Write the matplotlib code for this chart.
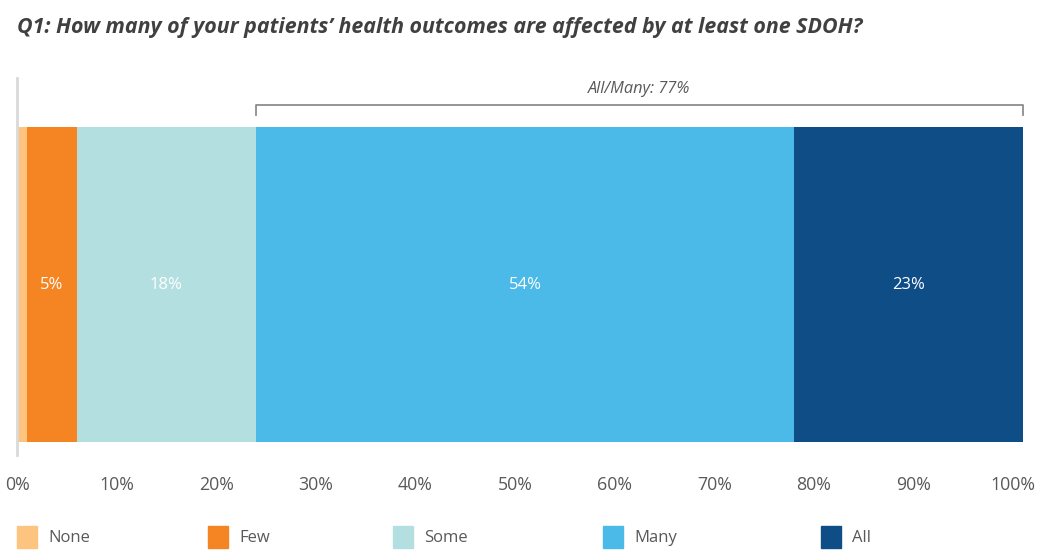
import matplotlib.pyplot as plt
from matplotlib.patches import Rectangle
import numpy as np

# data
categories = ['None', 'Few', 'Some', 'Many', 'All']
values = [1, 5, 18, 54, 23]
labels = ['', '5%', '18%', '54%', '23%']
colors = ['#FDC47F', '#F58523', '#B3DFE0', '#4BBAE9', '#0F4D87']
ticks = [0, 10, 20, 30, 40, 50, 60, 70, 80, 90, 100]
bracket_text = 'All/Many: 77%'

plt.rcParams['font.family'] = ['Open Sans', 'DejaVu Sans']

fig = plt.figure(figsize=(10.64, 5.56), dpi=100)
ax = fig.add_axes([17 / 1064, 1 - 455 / 556, 1006 / 1064, 377 / 556])

left = 0
starts = []
for v, lab, c in zip(values, labels, colors):
    ax.barh(0, v, left=left, height=1, color=c, edgecolor='none')
    if lab:
        ax.text(left + v / 2, 0, lab, ha='center', va='center', color='white', fontsize=12)
    starts.append(left)
    left += v

# bracket over Many + All
b0 = starts[3]
b1 = left
ax.plot([b0, b0, b1, b1], [0.54, 0.57, 0.57, 0.54], color='#8C8C8C', lw=1.3, clip_on=False)
ax.text((b0 + b1) / 2, 0.62, bracket_text, ha='center', va='center', color='#595959',
        fontsize=11.8, style='italic')

ax.set_xlim(0, left)
ax.set_ylim(-0.541, 0.656)
ax.set_xticks(ticks)
ax.set_xticklabels([f'{t}%' for t in ticks], color='#595959', fontsize=12.8)
ax.tick_params(axis='x', length=0, pad=15)
ax.set_yticks([])
for s in ['top', 'right', 'bottom']:
    ax.spines[s].set_visible(False)
ax.spines['left'].set_color('#D9D9D9')
ax.spines['left'].set_linewidth(2)

fig.text(17 / 1064, 1 - 28 / 556, 'Q1: How many of your patients\u2019 health outcomes are affected by at least one SDOH?',
         fontsize=15.4, fontweight='bold', style='italic', color='#404040', va='center')

# legend, placed by hand
leg_x = [17, 208, 393, 603, 821]
for x, cat, c in zip(leg_x, categories, colors):
    fig.add_artist(Rectangle((x / 1064, 1 - 548 / 556), 20 / 1064, 22 / 556,
                             transform=fig.transFigure, color=c))
    fig.text((x + 31) / 1064, 1 - 538 / 556, cat, fontsize=12, color='#595959', va='center')

fig.savefig('out.png', dpi=100)
